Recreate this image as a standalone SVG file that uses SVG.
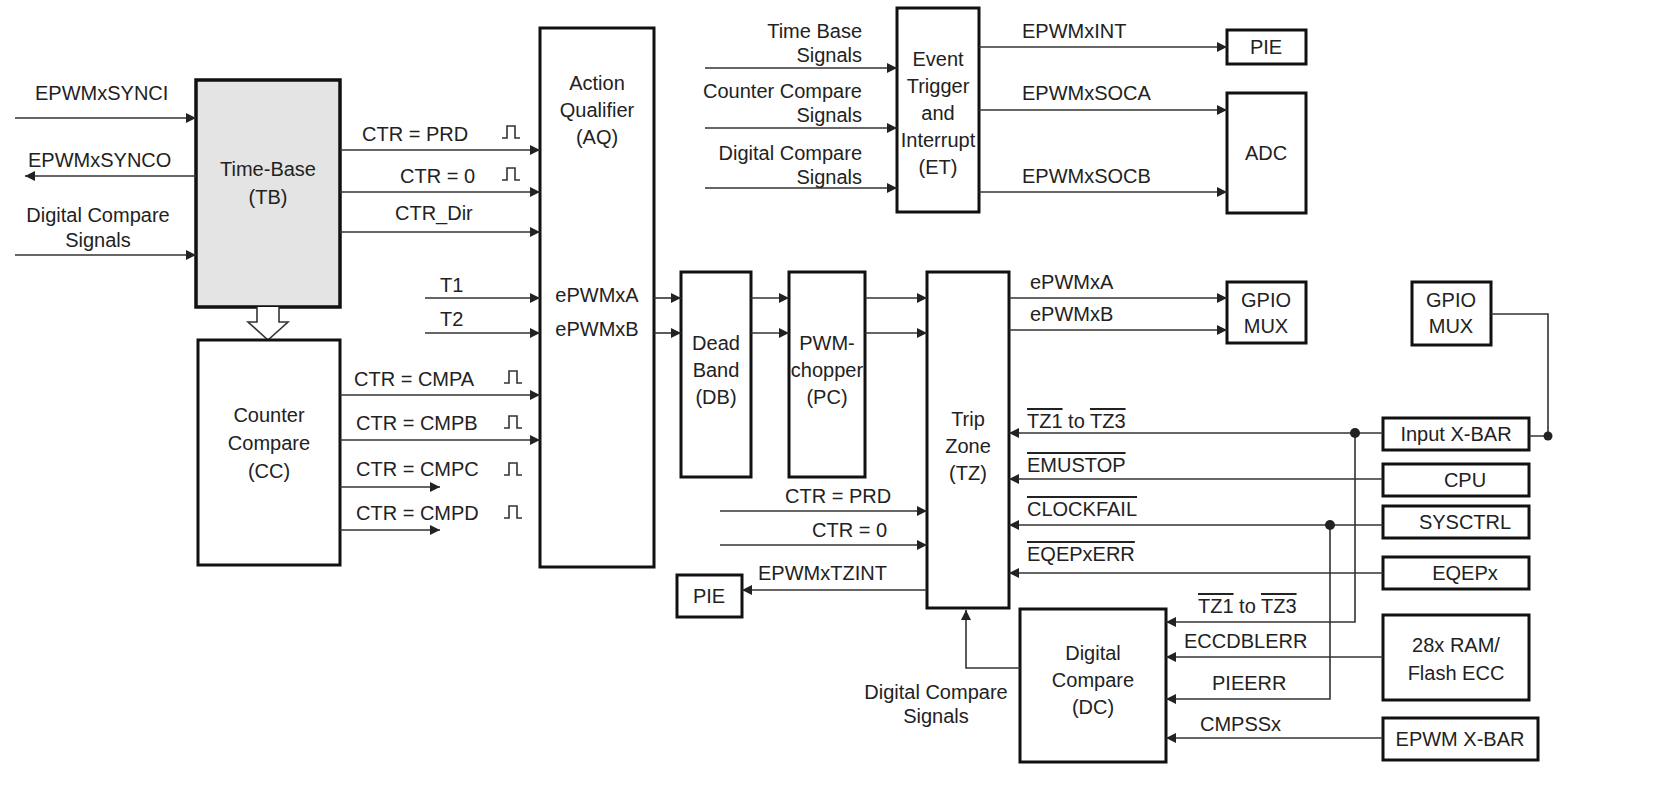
<svg xmlns="http://www.w3.org/2000/svg" width="1661" height="805" viewBox="0 0 1661 805">
<defs>
<marker id="a" viewBox="0 0 10 10" refX="10" refY="5" markerWidth="10" markerHeight="10" markerUnits="userSpaceOnUse" orient="auto"><path d="M0,0 L10,5 L0,10 z" fill="#222"/></marker>
</defs>
<style>
.b{fill:#fff;stroke:#111;stroke-width:3}
.g{fill:#e4e4e4;stroke:#111;stroke-width:3.5}
text{font-family:"Liberation Sans",Arial,sans-serif;font-size:20px;fill:#222}
.c{text-anchor:middle}
.r{text-anchor:end}
.l{fill:none;stroke:#333;stroke-width:1.6}
.m{marker-end:url(#a)}
.o{text-decoration:overline}
</style>
<rect width="1661" height="805" fill="#fff"/>
<g id="tb"><rect class="g" x="196" y="80" width="144" height="227"/><text class="c" x="268" y="176">Time-Base</text><text class="c" x="268" y="204">(TB)</text></g>
<g id="hollow"><path d="M257,307 V322 H248 L268,340 L288,322 H279 V307" fill="#fff" stroke="#333" stroke-width="1.6"/></g>
<g id="cc"><rect class="b" x="198" y="340" width="142" height="225"/><text class="c" x="269" y="422">Counter</text><text class="c" x="269" y="450">Compare</text><text class="c" x="269" y="478">(CC)</text></g>
<g id="aq"><rect class="b" x="540" y="28" width="114" height="539"/><text class="c" x="597" y="90">Action</text><text class="c" x="597" y="117">Qualifier</text><text class="c" x="597" y="144">(AQ)</text><text class="c" x="597" y="302">ePWMxA</text><text class="c" x="597" y="336">ePWMxB</text></g>
<g id="db"><rect class="b" x="681" y="272" width="70" height="205"/><text class="c" x="716" y="350">Dead</text><text class="c" x="716" y="377">Band</text><text class="c" x="716" y="404">(DB)</text></g>
<g id="pc"><rect class="b" x="789" y="272" width="76" height="205"/><text class="c" x="827" y="350">PWM-</text><text class="c" x="827" y="377">chopper</text><text class="c" x="827" y="404">(PC)</text></g>
<g id="tz"><rect class="b" x="927" y="272" width="82" height="336"/><text class="c" x="968" y="426">Trip</text><text class="c" x="968" y="453">Zone</text><text class="c" x="968" y="480">(TZ)</text></g>
<g id="et"><rect class="b" x="897" y="8" width="82" height="204"/><text class="c" x="938" y="66">Event</text><text class="c" x="938" y="93">Trigger</text><text class="c" x="938" y="120">and</text><text class="c" x="938" y="147">Interrupt</text><text class="c" x="938" y="174">(ET)</text></g>
<g id="pie1"><rect class="b" x="1227" y="30" width="79" height="34"/><text class="c" x="1266" y="54">PIE</text></g>
<g id="adc"><rect class="b" x="1227" y="93" width="79" height="120"/><text class="c" x="1266" y="160">ADC</text></g>
<g id="gpio1"><rect class="b" x="1227" y="282" width="79" height="61"/><text class="c" x="1266" y="307">GPIO</text><text class="c" x="1266" y="333">MUX</text></g>
<g id="gpio2"><rect class="b" x="1412" y="282" width="79" height="63"/><text class="c" x="1451" y="307">GPIO</text><text class="c" x="1451" y="333">MUX</text></g>
<g id="ixbar"><rect class="b" x="1383" y="418" width="146" height="32"/><text class="c" x="1456" y="441">Input X-BAR</text></g>
<g id="cpu"><rect class="b" x="1383" y="464" width="146" height="32"/><text class="c" x="1465" y="487">CPU</text></g>
<g id="sysctrl"><rect class="b" x="1383" y="506" width="146" height="32"/><text class="c" x="1465" y="529">SYSCTRL</text></g>
<g id="eqep"><rect class="b" x="1383" y="557" width="146" height="32"/><text class="c" x="1465" y="580">EQEPx</text></g>
<g id="ram"><rect class="b" x="1383" y="615" width="146" height="85"/><text class="c" x="1456" y="652">28x RAM/</text><text class="c" x="1456" y="680">Flash ECC</text></g>
<g id="exbar"><rect class="b" x="1383" y="718" width="155" height="42"/><text class="c" x="1460" y="746">EPWM X-BAR</text></g>
<g id="dc"><rect class="b" x="1020" y="609" width="146" height="153"/><text class="c" x="1093" y="660">Digital</text><text class="c" x="1093" y="687">Compare</text><text class="c" x="1093" y="714">(DC)</text></g>
<g id="pie2"><rect class="b" x="677" y="575" width="65" height="42"/><text class="c" x="709" y="603">PIE</text></g>
<g id="connectors">
<path class="l m" d="M15,118 H196"/><path class="l m" d="M196,176 H25"/><path class="l m" d="M15,255 H196"/>
<path class="l m" d="M340,150 H540"/><path class="l m" d="M340,192 H540"/><path class="l m" d="M340,232 H540"/>
<path class="l m" d="M425,298 H540"/><path class="l m" d="M425,333 H540"/>
<path class="l m" d="M340,395 H540"/><path class="l m" d="M340,440 H540"/><path class="l m" d="M340,487 H440"/><path class="l m" d="M340,530 H440"/>
<path class="l m" d="M654,298 H681"/><path class="l m" d="M654,333 H681"/><path class="l m" d="M751,298 H789"/><path class="l m" d="M751,333 H789"/><path class="l m" d="M865,298 H927"/><path class="l m" d="M865,333 H927"/>
<path class="l m" d="M1009,298 H1227"/><path class="l m" d="M1009,330 H1227"/>
<path class="l m" d="M720,511 H927"/><path class="l m" d="M720,545 H927"/><path class="l m" d="M927,590 H742"/>
<path class="l m" d="M705,68 H897"/><path class="l m" d="M705,128 H897"/><path class="l m" d="M705,188 H897"/>
<path class="l m" d="M979,47 H1227"/><path class="l m" d="M979,110 H1227"/><path class="l m" d="M979,192 H1227"/>
<path class="l m" d="M1383,433 H1009"/><path class="l m" d="M1383,479 H1009"/><path class="l m" d="M1383,525 H1009"/><path class="l m" d="M1383,573 H1009"/>
<path class="l m" d="M1355,433 V622 H1166"/><path class="l m" d="M1383,657 H1166"/><path class="l m" d="M1330,525 V699 H1166"/><path class="l m" d="M1383,738 H1166"/>
<path class="l m" d="M1020,668 H966 V610"/>
<path class="l" d="M1491,314 H1548 V436 H1529"/>
<circle cx="1355" cy="433" r="5" fill="#222"/><circle cx="1330" cy="525" r="5" fill="#222"/><circle cx="1548" cy="436" r="4.5" fill="#222"/>
<path class="l" d="M502,138 h5 v-12 h8 v12 h5 M502,180 h5 v-12 h8 v12 h5 M504,383 h5 v-12 h8 v12 h5 M504,428 h5 v-12 h8 v12 h5 M504,475 h5 v-12 h8 v12 h5 M504,518 h5 v-12 h8 v12 h5"/>
</g>
<g id="labels">
<text x="35" y="100">EPWMxSYNCI</text><text x="28" y="167">EPWMxSYNCO</text><text class="c" x="98" y="222">Digital Compare</text><text class="c" x="98" y="247">Signals</text>
<text x="362" y="141">CTR = PRD</text><text x="400" y="183">CTR = 0</text><text x="395" y="220">CTR_Dir</text>
<text x="440" y="292">T1</text><text x="440" y="326">T2</text>
<text x="354" y="386">CTR = CMPA</text><text x="356" y="430">CTR = CMPB</text><text x="356" y="476">CTR = CMPC</text><text x="356" y="520">CTR = CMPD</text>
<text class="r" x="862" y="38">Time Base</text><text class="r" x="862" y="62">Signals</text><text class="r" x="862" y="98">Counter Compare</text><text class="r" x="862" y="122">Signals</text><text class="r" x="862" y="160">Digital Compare</text><text class="r" x="862" y="184">Signals</text>
<text x="1022" y="38">EPWMxINT</text><text x="1022" y="100">EPWMxSOCA</text><text x="1022" y="183">EPWMxSOCB</text>
<text x="1030" y="289">ePWMxA</text><text x="1030" y="321">ePWMxB</text>
<text x="785" y="503">CTR = PRD</text><text x="812" y="537">CTR = 0</text><text x="758" y="580">EPWMxTZINT</text>
<text x="1027" y="428"><tspan class="o">TZ1</tspan> to <tspan class="o">TZ3</tspan></text>
<text x="1027" y="472" class="o">EMUSTOP</text><text x="1027" y="516" class="o">CLOCKFAIL</text><text x="1027" y="561" class="o">EQEPxERR</text>
<text x="1198" y="613"><tspan class="o">TZ1</tspan> to <tspan class="o">TZ3</tspan></text>
<text x="1184" y="648">ECCDBLERR</text><text x="1212" y="690">PIEERR</text><text x="1200" y="731">CMPSSx</text>
<text class="c" x="936" y="699">Digital Compare</text><text class="c" x="936" y="723">Signals</text>
</g>
</svg>
